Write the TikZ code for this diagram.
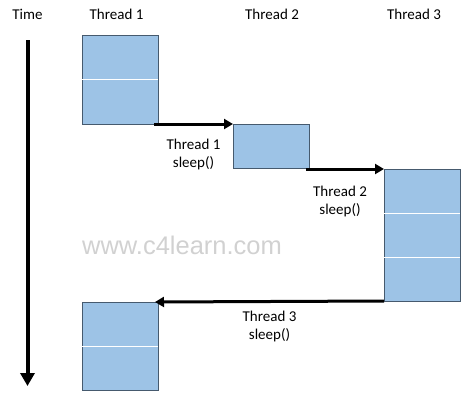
\documentclass[tikz,border=0pt]{standalone}
\usepackage{fontspec}
\setmainfont{Carlito}
\newfontfamily\markfont{Liberation Sans}
\usetikzlibrary{arrows.meta, positioning}
\definecolor{boxblue}{RGB}{157,195,230}
\definecolor{boxedge}{RGB}{70,90,110}

\begin{document}
\begin{tikzpicture}[x=1pt, y=-1pt,
    threadbox/.style={draw=boxedge, line width=1pt, fill=boxblue, minimum width=76pt, inner sep=0pt, outer sep=0pt},
    label/.style={font=\fontsize{15}{18}\selectfont, align=center, inner sep=0pt},
    switch/.style={line width=3pt, -{Triangle[length=9pt, width=10pt]}},
    slice/.style={white, line width=1pt}]
    \useasboundingbox (0,0) rectangle (474,407);

    % Column headings
    \node[label] (time) at (27.5,14) {Time};
    \node[label] (h1) at (116.5,14) {Thread 1};
    \node[label] (h2) at (272,14) {Thread 2};
    \node[label] (h3) at (414,14) {Thread 3};

    % Time axis
    \coordinate (tstart) at (27.5,40);
    \coordinate (tend) at (27.5,386);
    \draw[line width=4pt, -{Triangle[length=13pt, width=14pt]}] (tstart) -- (tend);

    % Watermark
    \node[font=\markfont\fontsize{25.5}{30}\selectfont, text=black!18, inner sep=0pt] (mark) at (182,245) {www.c4learn.com};

    % Time slices
    \node[threadbox, minimum height=89pt] (t1) at (120,79.5) {};  % Thread 1 runs
    \draw[slice] (t1.west) -- (t1.east);
    \node[threadbox, minimum height=44pt] (t2) at (271,146) {};  % Thread 2 runs
    \node[threadbox, minimum height=132pt] (t3) at (422,235) {};  % Thread 3 runs
    \draw[slice] (384,213) -- (460,213);
    \draw[slice] (384,257) -- (460,257);
    \node[threadbox, minimum height=88pt] (t4) at (120,346) {};  % Thread 1 again
    \draw[slice] (t4.west) -- (t4.east);

    % Context switches
    \draw[switch] ([xshift=-4pt]t1.south east) -- (t2.north west);
    \draw[switch] ([xshift=-3pt]t2.south east |- t3.north west) -- (t3.north west);
    \draw[switch] (t3.south west) -- ([xshift=-3pt]t4.north east);

    % Labels
    \node[label] (s1) at (193.5,154) {Thread 1\\sleep()};
    \node[label] (s2) at (340,201.5) {Thread 2\\sleep()};
    \node[label] (s3) at (269.5,326) {Thread 3\\sleep()};
\end{tikzpicture}
\end{document}
